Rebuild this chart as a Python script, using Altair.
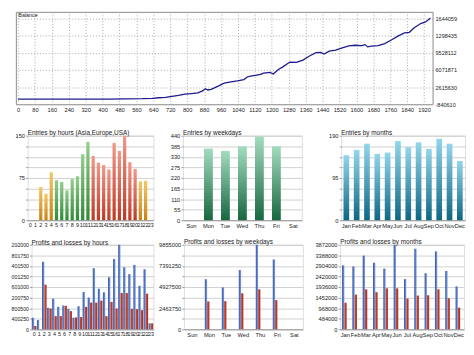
import altair as alt
import pandas as pd

FONT = "Liberation Sans"

# ---------------- Balance curve (top) ----------------
bal_deal = [0, 232, 433, 588, 635, 666, 697, 728, 759, 789, 820, 851, 875, 885, 898, 913, 944, 975,
            1006, 1037, 1068, 1084, 1099, 1122, 1146, 1161, 1192, 1207, 1231, 1254, 1285, 1316, 1347,
            1378, 1409, 1432, 1447, 1471, 1502, 1533, 1564, 1594, 1625, 1641, 1653, 1672, 1703, 1734,
            1765, 1796, 1827, 1850, 1873, 1904, 1927, 1950]
bal_value = [202782, 202782, 202782, 267994, 333206, 463630, 528842, 724478, 920114, 1180962,
             1311386, 1441810, 1898294, 2289566, 2028718, 2159142, 2746050, 3398170, 3659018,
             3854654, 4115502, 4637198, 4832834, 4963258, 5158894, 5419742, 5550166, 5224106,
             6137074, 6723982, 7636950, 7571738, 8028222, 8875978, 9528098, 9593310, 9267250,
             9854158, 10049794, 10506278, 10897550, 11027974, 10962762, 11158398, 10701914,
             10832338, 10962762, 11354034, 12071366, 12853910, 13506030, 13636454, 14549422,
             15397178, 15723238, 16505782]
top_x_ticks = list(range(0, 1921, 80))
top_y_ticks = [-840610, 2615630, 6071871, 9528112, 12984353, 16440594]
top_y_labels = ["-840610", "2615630", "6071871", "9528112", "1298435", "1644059"]
top_label = ["Balance"]

# ---------------- Entries ----------------
hours = [str(h) for h in range(24)]
hour_entries = [0, 0, 59, 47, 85, 71, 68, 53, 73, 78, 117, 139, 114, 102, 98, 90, 137, 123, 150,
                103, 91, 69, 70, 0]
hour_zone = ["asia"] * 5 + ["europe"] * 7 + ["usa"] * 9 + ["asia"] * 3

days = ["Sun", "Mon", "Tue", "Wed", "Thu", "Fri", "Sat"]
day_entries = [0, 373, 361, 385, 435, 385, 0]

months = ["Jan", "Feb", "Mar", "Apr", "May", "Jun", "Jul", "Aug", "Sep", "Oct", "Nov", "Dec"]
month_entries = [146, 158, 172, 149, 152, 178, 164, 175, 160, 183, 172, 133]

# ---------------- Profits and losses ----------------
hour_profit = [437800, 350000, 2560000, 813000, 1163000, 850000, 900000, 775000, 438000, 875000,
               1413000, 1200000, 2314000, 1538000, 1400000, 1976000, 2664000, 3202000, 2350000,
               2090000, 2440000, 1650000, 2276000, 225000]
hour_loss = [125000, 0, 1690000, 788000, 500000, 500000, 888000, 688000, 450000, 463000, 850000,
             1013000, 1013000, 1088000, 500000, 1038000, 788000, 1376000, 1376000, 775000, 763000,
             725000, 1350000, 225000]
day_profit = [0, 5840000, 4890000, 6910000, 9855000, 8140000, 0]
day_loss = [0, 3250000, 3280000, 4200000, 4660000, 3400000, 0]
month_profit = [2930000, 2880000, 3377000, 3050000, 2780000, 3872000, 2300000, 3690000, 2570000,
                3570000, 2670000, 1966000]
month_loss = [1216000, 1590000, 1830000, 1700000, 1876000, 1876000, 1410000, 1546000, 1560000,
              1830000, 1426000, 990000]

# axis ticks / labels
eh_ticks = [0, 18.75, 37.5, 56.25, 75, 93.75, 112.5, 131.25, 150]
eh_labels = ["0", "", "", "", "75", "", "", "", "150"]
ed_ticks = [0, 55, 110, 165, 220, 275, 330, 385, 440]
ed_labels = ["0", "55", "110", "165", "220", "275", "330", "385", "440"]
em_ticks = [0, 23.75, 47.5, 71.25, 95, 118.75, 142.5, 166.25, 190]
em_labels = ["0", "", "", "", "95", "", "", "", "190"]
ph_ticks = [0, 400250, 800500, 1200750, 1601000, 2001250, 2401500, 2801750, 3202000]
ph_labels = ["0", "400250", "800500", "200750", "601000", "001250", "401500", "801750", "202000"]
pd_ticks = [0, 1231875, 2463750, 3695625, 4927500, 6159375, 7391250, 8623125, 9855000]
pd_labels = ["0", "", "2463750", "", "4927500", "", "7391250", "", "9855000"]
pm_ticks = [0, 484000, 968000, 1452000, 1936000, 2420000, 2904000, 3388000, 3872000]
pm_labels = ["0", "484000", "968000", "1452000", "1936000", "2420000", "2904000", "3388000", "3872000"]


def lab_expr(values, labels):
    arr_l = "[" + ",".join("'" + l + "'" for l in labels) + "]"
    arr_v = "[" + ",".join(repr(v) for v in values) + "]"
    return arr_l + "[indexof(" + arr_v + ", datum.value)]"


def vgrad(top, bottom):
    return alt.LinearGradient(gradient="linear", x1=0, x2=0, y1=0, y2=1,
                              stops=[alt.GradientStop(color=top, offset=0),
                                     alt.GradientStop(color=bottom, offset=1)])


def hgrad(left, right):
    return alt.LinearGradient(gradient="linear", x1=0, x2=1, y1=0, y2=0,
                              stops=[alt.GradientStop(color=left, offset=0),
                                     alt.GradientStop(color=right, offset=1)])


def yaxis(values, labels, E, fs=5.8):
    return alt.Axis(values=values, labelExpr=lab_expr(values, labels), grid=True,
                    gridColor="#c4c4c4", gridWidth=0.8, domain=False, ticks=True, tickSize=2,
                    tickColor="#999999", labelFontSize=fs, labelPadding=1.2, labelColor="#222222",
                    labelFont=FONT, title=None, minExtent=E, maxExtent=E)


def xaxis(fs=5.8):
    return alt.Axis(title=None, labelAngle=0, labelFontSize=fs, labelPadding=2, ticks=False,
                    domain=True, domainColor="#9a9a9a", labelOverlap=False, labelColor="#222222",
                    labelFont=FONT, grid=False)


def ptitle(text):
    return alt.TitleParams(text=text, anchor="start", frame="group", fontSize=6.5,
                           fontWeight="normal", color="#222222", offset=-4, font=FONT)


# ---------------- top chart ----------------
bal_df = pd.DataFrame({"deal": bal_deal, "balance": bal_value})
ys_top = alt.Scale(domain=[-840610, 17750000], nice=False, zero=False)
xs_top = alt.Scale(domain=[-10, 1960], nice=False, zero=False)

line = alt.Chart(bal_df).mark_line(color="#1c1c90", strokeWidth=1.3).encode(
    x=alt.X("deal:Q", scale=xs_top,
            axis=alt.Axis(values=top_x_ticks, format="d", grid=True, gridDash=[1, 2],
                          gridColor="#a8a8a8", labelFontSize=5.8, labelPadding=2.5, tickSize=0,
                          domain=False, title=None, labelFlush=False, labelColor="#222222",
                          labelFont=FONT)),
    y=alt.Y("balance:Q", scale=ys_top,
            axis=alt.Axis(orient="right", values=top_y_ticks,
                          labelExpr=lab_expr(top_y_ticks, top_y_labels), grid=True,
                          gridDash=[1, 2], gridColor="#a8a8a8", labelFontSize=5.6, labelPadding=2.5,
                          tickSize=0, domain=False, title=None, labelColor="#222222",
                          labelFont=FONT)),
)
ghost = alt.Chart(pd.DataFrame({"v": [top_y_ticks[0]]})).mark_rule(opacity=0).encode(
    y=alt.Y("v:Q", scale=ys_top,
            axis=alt.Axis(orient="left", labelExpr="''", ticks=False, domain=False, grid=False,
                          labelPadding=0, title=None, minExtent=7, maxExtent=7))
)
blabel = alt.Chart(pd.DataFrame({"t": top_label})).mark_text(
    align="left", baseline="top", fontSize=5.5, color="#222222", font=FONT
).encode(x=alt.value(2.5), y=alt.value(1), text="t:N")

top = alt.layer(ghost, line, blabel).resolve_axis(y="independent").properties(
    width=424, height=94, view=alt.ViewBackground(stroke="#8a8a8a", strokeWidth=1))


# ---------------- entries panels ----------------
def entry_panel(df, cat, cats, groups, ymax, yt, yl, E, pad, width, title, fs=5.8):
    x = alt.X(cat + ":N", sort=cats, scale=alt.Scale(domain=cats, paddingInner=pad, paddingOuter=pad / 2),
              axis=xaxis(fs))
    y = alt.Y("v:Q", scale=alt.Scale(domain=[0, ymax], nice=False, zero=True), axis=yaxis(yt, yl, E))
    layers = []
    for g, col in groups:
        layers.append(alt.Chart(df).transform_filter(alt.datum.g == g).mark_bar(color=col).encode(x=x, y=y))
    return alt.layer(*layers).properties(width=width, height=86, title=ptitle(title))


eh_df = pd.DataFrame({"hour": hours, "v": hour_entries, "g": hour_zone})
ed_df = pd.DataFrame({"day": days, "v": day_entries, "g": ["all"] * 7})
em_df = pd.DataFrame({"month": months, "v": month_entries, "g": ["all"] * 12})

p1 = entry_panel(eh_df, "hour", hours,
                 [("asia", vgrad("#f3c869", "#c98412")), ("europe", vgrad("#92cf8c", "#2f8a36")),
                  ("usa", vgrad("#f2988a", "#bf3a24"))],
                 150, eh_ticks, eh_labels, 14, 0.38, 128, "Entries by hours (Asia,Europe,USA)", fs=5.5)
p2 = entry_panel(ed_df, "day", days, [("all", vgrad("#a3dcbf", "#17673f"))],
                 440, ed_ticks, ed_labels, 26, 0.48, 121, "Entries by weekdays")
p3 = entry_panel(em_df, "month", months, [("all", vgrad("#93d6ea", "#0d6784"))],
                 190, em_ticks, em_labels, 36, 0.45, 126, "Entries by months")


# ---------------- profit / loss panels ----------------
def pl_panel(cat, cats, prof, loss, ymax, yt, yl, E, pad, width, title, fs=5.8, yfs=5.8):
    df = pd.DataFrame({cat: cats + cats, "type": ["Profit"] * len(cats) + ["Loss"] * len(cats),
                       "v": prof + loss})
    x = alt.X(cat + ":N", sort=cats, scale=alt.Scale(domain=cats, paddingInner=pad, paddingOuter=pad / 2),
              axis=xaxis(fs))
    xo = alt.XOffset("type:N", scale=alt.Scale(domain=["Profit", "Loss"], paddingInner=0,
                                               paddingOuter=0))
    y = alt.Y("v:Q", scale=alt.Scale(domain=[0, ymax], nice=False, zero=True),
              axis=yaxis(yt, yl, E, yfs))
    blue = alt.Chart(df).transform_filter(alt.datum.type == "Profit").mark_bar(
        color=hgrad("#3154a6", "#7f9fdf")).encode(x=x, xOffset=xo, y=y)
    red = alt.Chart(df).transform_filter(alt.datum.type == "Loss").mark_bar(
        color=hgrad("#d4503a", "#a52a18")).encode(x=x, xOffset=xo, y=y)
    return alt.layer(blue, red).properties(width=width, height=86, title=ptitle(title))


p4 = pl_panel("hour", hours, hour_profit, hour_loss, 3202000, ph_ticks, ph_labels, 21, 0.1, 124,
              "Profits and losses by hours", fs=5.5, yfs=5.3)
p5 = pl_panel("day", days, day_profit, day_loss, 9855000, pd_ticks, pd_labels, 27, 0.46, 121,
              "Profits and losses by weekdays")
p6 = pl_panel("month", months, month_profit, month_loss, 3872000, pm_ticks, pm_labels, 34, 0.36, 126,
              "Profits and losses by months")


def spacer():
    return alt.Chart(pd.DataFrame({"s": [0]})).mark_rule(opacity=0).encode(
        x=alt.value(0), y=alt.value(0), y2=alt.value(1)).properties(width=1, height=1)


row1 = alt.hconcat(spacer(), alt.hconcat(p1, p2, p3, spacing=2), spacing=-5)
row2 = alt.hconcat(spacer(), alt.hconcat(p4, p5, p6, spacing=2), spacing=-8)
rows = alt.vconcat(row1, row2, spacing=10)

chart = alt.vconcat(top, rows, spacing=17).properties(
    padding={"left": 0, "top": 0, "right": 0, "bottom": 0},
    background="white",
).configure_view(stroke=None).configure(font=FONT)

chart.save("out.html", embed_options={"renderer": "svg", "actions": False})
